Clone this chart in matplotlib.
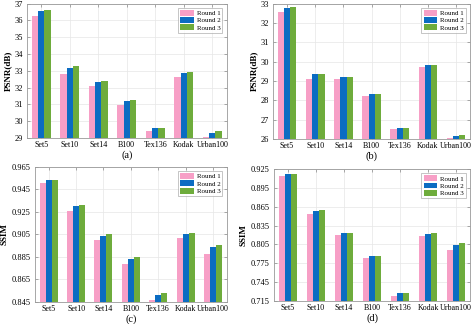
import matplotlib
matplotlib.use("Agg")
import matplotlib.pyplot as plt
import numpy as np

plt.rcParams['font.family'] = ['Liberation Serif', 'DejaVu Serif']

categories = ["Set5", "Set10", "Set14", "B100", "Tex136", "Kodak", "Urban100"]
series_names = ["Round 1", "Round 2", "Round 3"]
colors = ["#F79FC6", "#0B6CC2", "#6EAC3C"]

psnr_a_r1 = [36.28, 32.78, 32.08, 30.98, 29.44, 32.66, 29.06]
psnr_a_r2 = [36.57, 33.17, 32.31, 31.19, 29.58, 32.89, 29.32]
psnr_a_r3 = [36.64, 33.30, 32.37, 31.24, 29.60, 32.95, 29.42]

psnr_b_r1 = [32.57, 29.08, 29.08, 28.22, 26.50, 29.72, 26.03]
psnr_b_r2 = [32.78, 29.35, 29.22, 28.35, 26.58, 29.84, 26.18]
psnr_b_r3 = [32.82, 29.38, 29.22, 28.35, 26.57, 29.84, 26.22]

ssim_c_r1 = [0.951, 0.926, 0.900, 0.879, 0.847, 0.902, 0.888]
ssim_c_r2 = [0.953, 0.930, 0.904, 0.883, 0.851, 0.905, 0.894]
ssim_c_r3 = [0.953, 0.931, 0.905, 0.885, 0.853, 0.906, 0.896]

ssim_d_r1 = [0.914, 0.853, 0.820, 0.784, 0.723, 0.819, 0.796]
ssim_d_r2 = [0.917, 0.859, 0.823, 0.787, 0.727, 0.822, 0.804]
ssim_d_r3 = [0.918, 0.860, 0.824, 0.787, 0.728, 0.823, 0.807]

yticks_a = [29, 30, 31, 32, 33, 34, 35, 36, 37]
yticks_b = [26, 27, 28, 29, 30, 31, 32, 33]
yticks_c = [0.845, 0.865, 0.885, 0.905, 0.925, 0.945, 0.965]
yticks_d = [0.715, 0.745, 0.775, 0.805, 0.835, 0.865, 0.895, 0.925]

panels = [
    ([0.057, 0.574, 0.421, 0.415], [psnr_a_r1, psnr_a_r2, psnr_a_r3], yticks_a, "PSNR(dB)", "(a)", None),
    ([0.576, 0.571, 0.416, 0.418], [psnr_b_r1, psnr_b_r2, psnr_b_r3], yticks_b, "PSNR(dB)", "(b)", None),
    ([0.074, 0.068, 0.404, 0.417], [ssim_c_r1, ssim_c_r2, ssim_c_r3], yticks_c, "SSIM", "(c)", "%.3f"),
    ([0.578, 0.071, 0.414, 0.407], [ssim_d_r1, ssim_d_r2, ssim_d_r3], yticks_d, "SSIM", "(d)", "%.3f"),
]

fig = plt.figure(figsize=(4.74, 3.24), dpi=100)
x = np.arange(len(categories))
w = 0.22
for rect, series, yt, ylab, tag, fmt in panels:
    ax = fig.add_axes(rect)
    ax.set_axisbelow(True)
    ax.grid(True, color="#e6e6e6", linewidth=0.5)
    for i, (vals, name, c) in enumerate(zip(series, series_names, colors)):
        ax.bar(x + (i - 1) * w, vals, width=w, color=c, label=name, linewidth=0)
    ax.set_xlim(-0.5, len(categories) - 0.5)
    ax.set_ylim(yt[0], yt[-1])
    ax.set_yticks(yt)
    if fmt:
        ax.set_yticklabels([fmt % v for v in yt])
    ax.set_xticks(x)
    ax.set_xticklabels(categories)
    ax.tick_params(axis="x", labelsize=5.8, pad=2)
    ax.tick_params(axis="y", labelsize=6, pad=3)
    ax.tick_params(axis="both", direction="in", length=2, width=0.5,
                   top=True, right=True, color="#888888")
    for s in ax.spines.values():
        s.set_color("#999999")
        s.set_linewidth(0.6)
    ax.set_ylabel(ylab, fontsize=6.5, fontweight="bold", labelpad=2)
    ax.set_xlabel(tag, fontsize=7.5, labelpad=1)
    leg = ax.legend(loc="upper right", fontsize=5, frameon=True, fancybox=False,
                    edgecolor="#999999", handlelength=2.0, handleheight=0.9,
                    borderpad=0.3, labelspacing=0.15, handletextpad=0.4,
                    borderaxespad=0.6)
    leg.get_frame().set_linewidth(0.5)

fig.savefig("out.png", dpi=100)
